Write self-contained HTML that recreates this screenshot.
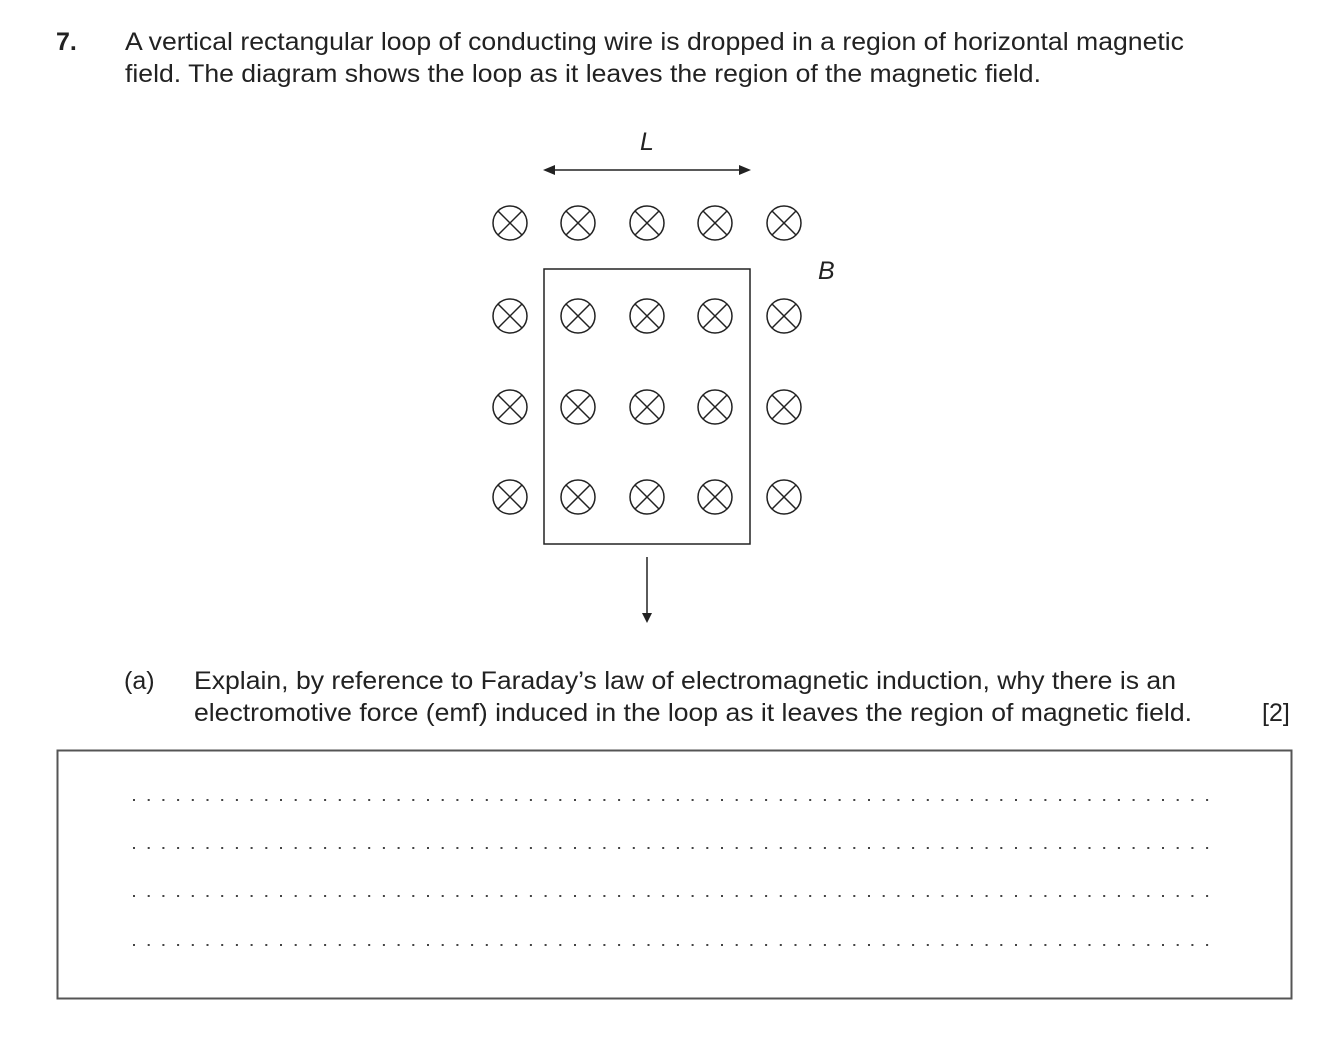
<!DOCTYPE html>
<html><head><style>body{margin:0;background:#fff}svg{display:block}</style></head><body>
<svg width="1320" height="1044" xmlns="http://www.w3.org/2000/svg" font-family="Liberation Sans, Arial, sans-serif" fill="#222">
<text x="56" y="50" font-size="25" font-weight="bold">7.</text>
<text x="125" y="50" font-size="25" textLength="1059" lengthAdjust="spacingAndGlyphs">A vertical rectangular loop of conducting wire is dropped in a region of horizontal magnetic</text>
<text x="125" y="82" font-size="25" textLength="916" lengthAdjust="spacingAndGlyphs">field. The diagram shows the loop as it leaves the region of the magnetic field.</text>
<text x="640" y="150" font-size="25" font-style="italic">L</text>
<text x="818" y="279" font-size="25" font-style="italic">B</text>
<g stroke="#222" stroke-width="1.5" fill="none">
<line x1="552" y1="170" x2="742" y2="170"/>
<rect x="544" y="269" width="206" height="275"/>
<line x1="647" y1="557" x2="647" y2="614"/>
</g>
<polygon points="543,170 555,165 555,175" fill="#222"/>
<polygon points="751,170 739,165 739,175" fill="#222"/>
<polygon points="647,623 642,613 652,613" fill="#222"/>
<defs><g id="c"><circle r="17" fill="none" stroke="#222" stroke-width="1.5"/><line x1="-12" y1="-12" x2="12" y2="12" stroke="#222" stroke-width="1.5"/><line x1="-12" y1="12" x2="12" y2="-12" stroke="#222" stroke-width="1.5"/></g></defs>
<g>
<use href="#c" x="510" y="223"/><use href="#c" x="578" y="223"/><use href="#c" x="647" y="223"/><use href="#c" x="715" y="223"/><use href="#c" x="784" y="223"/>
<use href="#c" x="510" y="316"/><use href="#c" x="578" y="316"/><use href="#c" x="647" y="316"/><use href="#c" x="715" y="316"/><use href="#c" x="784" y="316"/>
<use href="#c" x="510" y="407"/><use href="#c" x="578" y="407"/><use href="#c" x="647" y="407"/><use href="#c" x="715" y="407"/><use href="#c" x="784" y="407"/>
<use href="#c" x="510" y="497"/><use href="#c" x="578" y="497"/><use href="#c" x="647" y="497"/><use href="#c" x="715" y="497"/><use href="#c" x="784" y="497"/>
</g>
<text x="124" y="689" font-size="25">(a)</text>
<text x="194" y="689" font-size="25" textLength="982" lengthAdjust="spacingAndGlyphs">Explain, by reference to Faraday’s law of electromagnetic induction, why there is an</text>
<text x="194" y="721" font-size="25" textLength="998" lengthAdjust="spacingAndGlyphs">electromotive force (emf) induced in the loop as it leaves the region of magnetic field.</text>
<text x="1262" y="721" font-size="25">[2]</text>
<rect x="57.5" y="750.5" width="1234" height="248" fill="none" stroke="#555" stroke-width="2"/>
<g stroke="#444" stroke-width="2" stroke-dasharray="2 12.7">
<line x1="133" y1="800" x2="1220" y2="800"/>
<line x1="133" y1="848" x2="1220" y2="848"/>
<line x1="133" y1="896" x2="1220" y2="896"/>
<line x1="133" y1="945" x2="1220" y2="945"/>
</g>
</svg>
</body></html>
